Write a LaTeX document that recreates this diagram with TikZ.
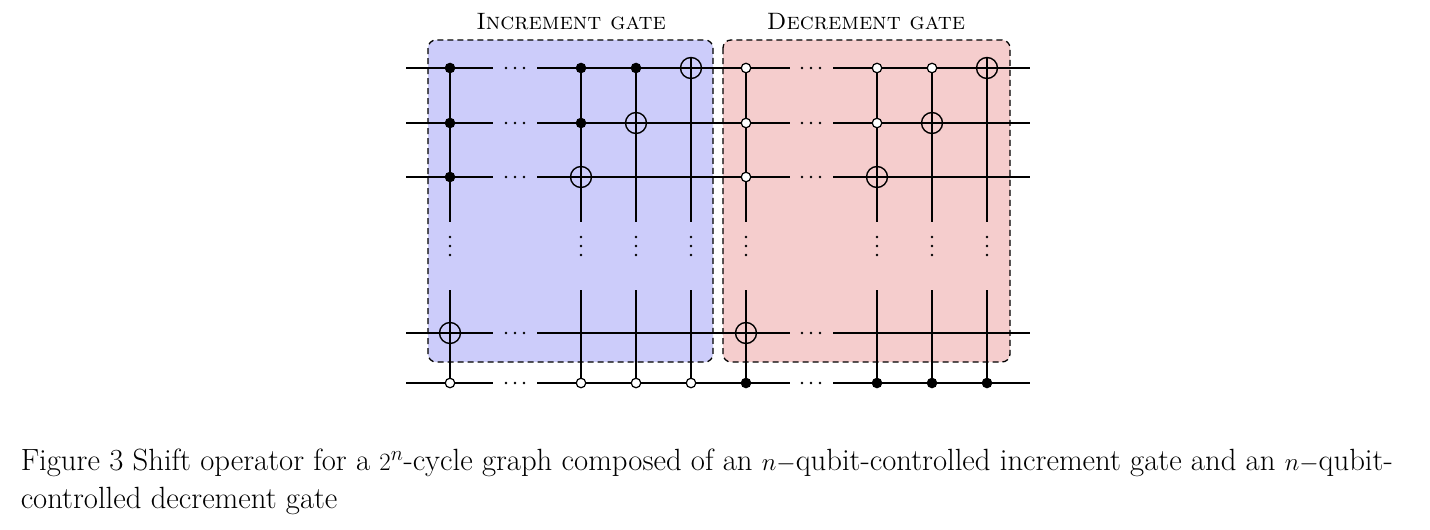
\documentclass[tikz,border=0pt]{standalone}
\usepackage{fontspec}
\definecolor{bfill}{RGB}{204,204,250}
\definecolor{rfill}{RGB}{245,205,205}
\begin{document}
\begin{tikzpicture}[x=1pt,y=-1pt,line width=1.5pt,
  ctrl/.style={circle,fill=black,draw=black,inner sep=0pt,minimum size=9pt},
  octrl/.style={circle,fill=white,draw=black,line width=1.2pt,inner sep=0pt,minimum size=9.5pt},
  targ/.style={circle,draw=black,line width=1.4pt,inner sep=0pt,minimum size=21pt,path picture={\draw[line width=1.4pt] (path picture bounding box.north)--(path picture bounding box.south) (path picture bounding box.west)--(path picture bounding box.east);}},
  pt/.style={circle,fill=black,inner sep=0pt,minimum size=2.8pt},
  gbox/.style={rounded corners=8pt,dash pattern=on 6pt off 4pt,line width=1.3pt,draw=black}]
\useasboundingbox (0,0) rectangle (1430,530);
\draw[gbox,fill=bfill] (428,40) rectangle (713,362);
\draw[gbox,fill=rfill] (723,40) rectangle (1010,362);
\node (t1) at (571,22) {\fontsize{23.7}{26}\selectfont\textsc{Increment gate}};
\node (t2) at (866,22) {\fontsize{23.7}{26}\selectfont\textsc{Decrement gate}};
\foreach \y in {68,123,177,333,383}{
  \draw (406,\y)--(493,\y) (537,\y)--(790,\y) (833,\y)--(1030,\y);
  \foreach \d in {-9,0,9}{\node[pt] at (515+\d,\y) {}; \node[pt] at (811+\d,\y) {};}
}
\foreach \x in {450,581,636,691,746,877,932,987}{
  \draw (\x,68)--(\x,222) (\x,290)--(\x,383);
  \foreach \d in {-9,0,9} \node[pt] at (\x,246+\d) {};
}
% increment
\foreach \y in {68,123,177} \node[ctrl] at (450,\y) {};
\node[targ] at (450,333) {}; \node[octrl] at (450,383) {};
\node[ctrl] at (581,68) {}; \node[ctrl] at (581,123) {}; \node[targ] at (581,177) {}; \node[octrl] at (581,383) {};
\node[ctrl] at (636,68) {}; \node[targ] at (636,123) {}; \node[octrl] at (636,383) {};
\node[targ] at (691,68) {}; \node[octrl] at (691,383) {};
% decrement
\foreach \y in {68,123,177} \node[octrl] at (746,\y) {};
\node[targ] at (746,333) {}; \node[ctrl] at (746,383) {};
\node[octrl] at (877,68) {}; \node[octrl] at (877,123) {}; \node[targ] at (877,177) {}; \node[ctrl] at (877,383) {};
\node[octrl] at (932,68) {}; \node[targ] at (932,123) {}; \node[ctrl] at (932,383) {};
\node[targ] at (987,68) {}; \node[ctrl] at (987,383) {};
\node[anchor=base west,inner sep=0pt] (c1) at (20,470) {\fontsize{30.7}{36}\selectfont Figure 3 Shift operator for a $2^n$-cycle graph composed of an $n-$qubit-controlled increment gate and an $n-$qubit-};
\node[anchor=base west,inner sep=0pt] (c2) at (20,508) {\fontsize{30.7}{36}\selectfont controlled decrement gate};
\end{tikzpicture}
\end{document}
